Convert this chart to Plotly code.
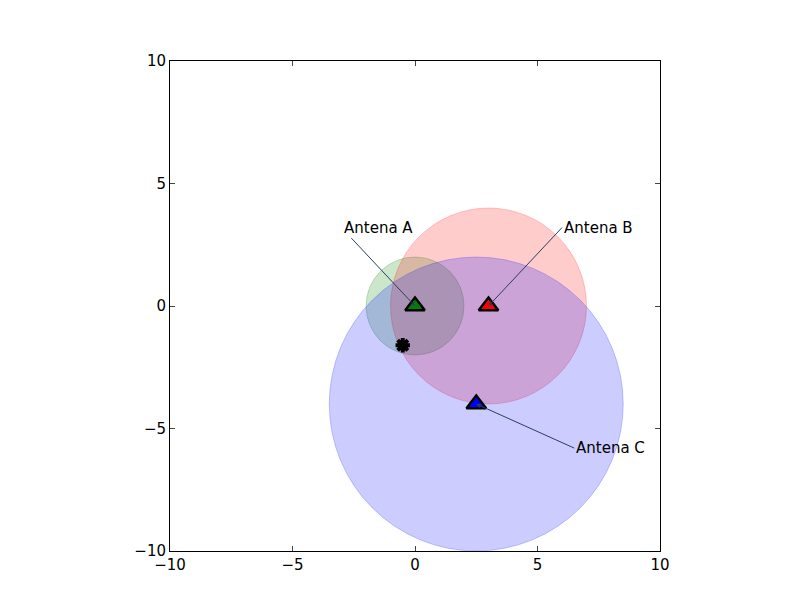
import plotly.graph_objects as go

names = ["Antena A", "Antena B", "Antena C"]
ant_x = [0, 3, 2.5]
ant_y = [0, 0, -4]
radii = [2, 4, 6]
colors = ["green", "red", "blue"]
fills = ["rgba(0,128,0,0.2)", "rgba(255,0,0,0.2)", "rgba(0,0,255,0.2)"]
text_x = [-3.0, 6.0, 6.5]
text_y = [3.2, 3.2, -5.8]
star_x = [-0.5]
star_y = [-1.6]

fig = go.Figure()
shapes = []
for x, y, r, f in zip(ant_x, ant_y, radii, fills):
    shapes.append(dict(type="circle", xref="x", yref="y", x0=x - r, x1=x + r,
                       y0=y - r, y1=y + r, fillcolor=f, line=dict(color=f, width=1),
                       layer="below"))
fig.add_trace(go.Scatter(x=ant_x, y=ant_y, mode="markers",
                         marker=dict(symbol="triangle-up", size=17, color=colors,
                                     line=dict(color="black", width=2.5))))
fig.add_trace(go.Scatter(x=star_x, y=star_y, mode="markers",
                         marker=dict(symbol="asterisk", size=12, color="black",
                                     line=dict(color="black", width=4))))
ann = []
for n, x, y, tx, ty in zip(names, ant_x, ant_y, text_x, text_y):
    ann.append(dict(x=x, y=y, ax=tx, ay=ty, xref="x", yref="y", axref="x", ayref="y",
                    text=n, showarrow=True, arrowhead=3, arrowsize=1, arrowwidth=1,
                    xanchor="left", font=dict(size=15, color="black")))
ax = dict(range=[-10, 10], tickvals=[-10, -5, 0, 5, 10], ticktext=["\u221210", "\u22125", "0", "5", "10"],
          showgrid=False, zeroline=False, ticks="inside", ticklen=5, mirror="ticks",
          showline=True, linecolor="black", linewidth=1, tickfont=dict(size=15, color="black"))
fig.update_layout(width=812, height=612, margin=dict(l=162, r=160, t=53, b=69),
                  plot_bgcolor="white", paper_bgcolor="white", showlegend=False,
                  shapes=shapes, annotations=ann,
                  xaxis=ax, yaxis=dict(**ax), font=dict(family="DejaVu Sans"))
fig.write_html("out.html")
